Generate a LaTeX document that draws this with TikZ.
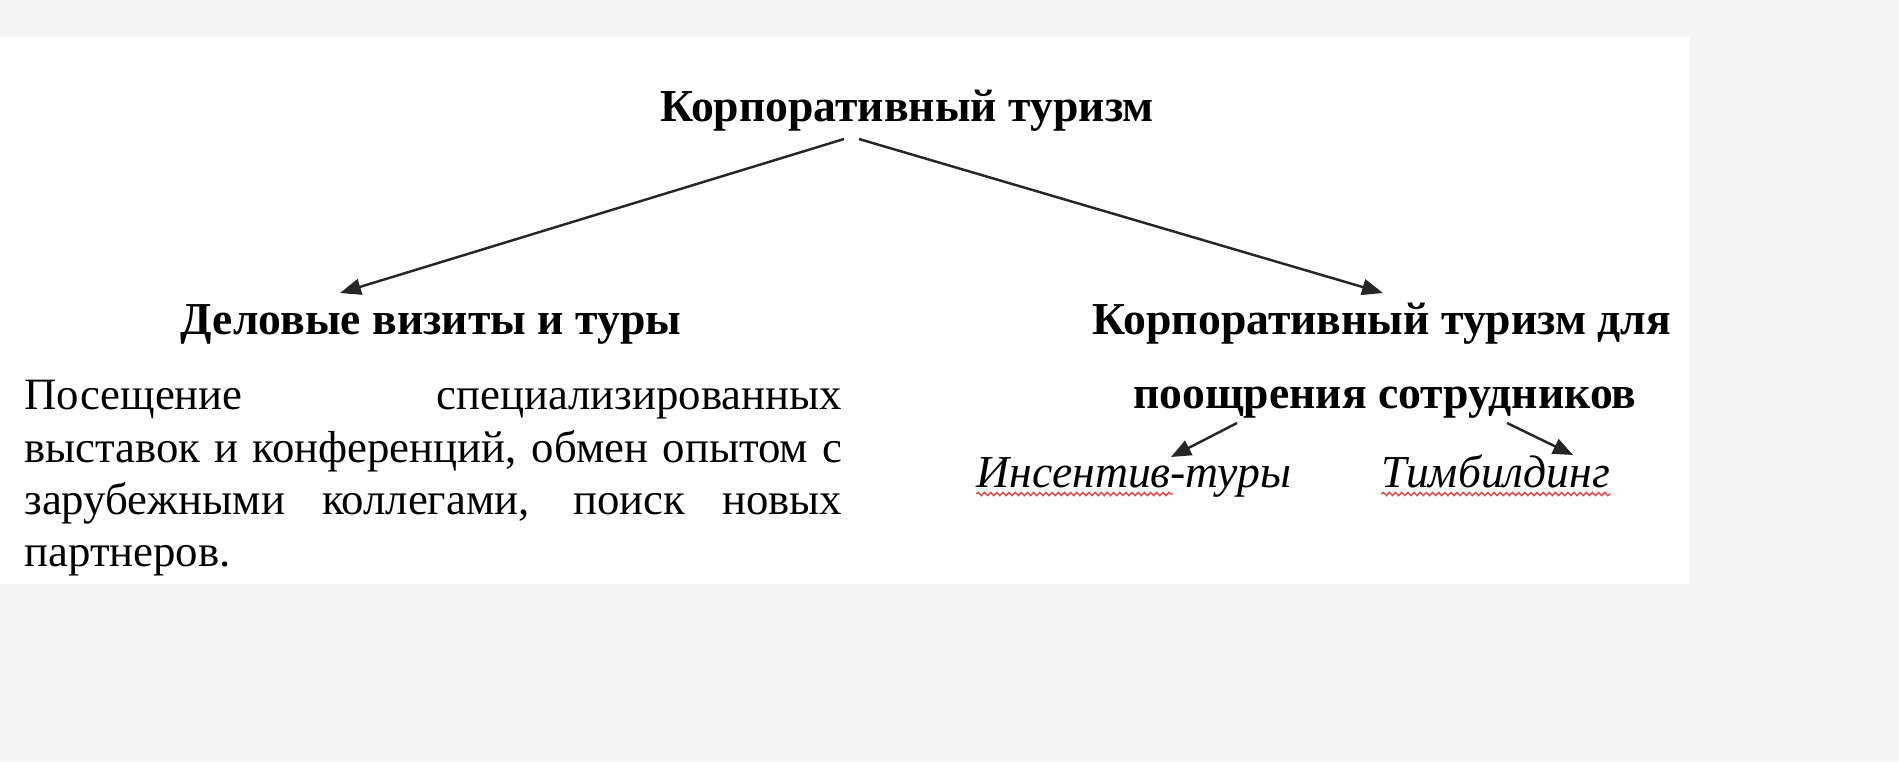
\documentclass[tikz,border=0pt]{standalone}
\usepackage{fontspec}
\setmainfont{Liberation Serif}
\usepackage{tikz}
\usetikzlibrary{positioning,arrows.meta,calc,decorations.pathmorphing}
\definecolor{pagegray}{RGB}{244,244,244}
\definecolor{spellred}{RGB}{226,70,70}
\tikzset{
    branch label/.style={font=\fontsize{26}{30}\selectfont\bfseries, inner sep=0pt, anchor=base},
    type label/.style={font=\fontsize{26}{30}\selectfont\itshape, inner sep=0pt, anchor=base},
    description/.style={font=\fontsize{25.5}{29.8}\selectfont, inner sep=0pt, text width=16.36cm, align=justify, anchor=north west},
    connection/.style={-{Triangle[length=0.42cm, width=0.32cm]}, line width=1.4pt, black!85},
    small connection/.style={-{Triangle[length=0.4cm, width=0.32cm]}, line width=1.4pt, black!85},
    spell mark/.style={spellred, line width=0.8pt, decorate, decoration={snake, amplitude=0.9pt, segment length=3.5pt}}
}
\begin{document}
\begin{tikzpicture}[x=0.02cm, y=-0.02cm]
    % page and white sheet
    \fill[pagegray] (0,0) rectangle (1899,761);
    \fill[white] (0,37) rectangle (1690,584);
    \useasboundingbox (0,0) rectangle (1899,761);

    % labels
    \node[branch label] (root) at (907,121) {Корпоративный туризм};
    \node[branch label] (business) at (431,334) {Деловые визиты и туры};
    \node[branch label] (incentive) at (1382,334) {Корпоративный туризм для};
    \node[branch label] (incentive2) at (1385,408) {поощрения сотрудников};
    \node[description] (visits) at (24,380) {\hyphenpenalty=10000 Посещение специализированных\linebreak
        выставок и конференций, обмен опытом с\linebreak
        зарубежными коллегами, поиск новых\linebreak
        партнеров.};
    \node[type label] (tours) at (1134,487) {Инсентив-туры};
    \node[type label] (teambuilding) at (1496,487) {Тимбилдинг};

    % arrows from the root
    \draw[connection] ($(root.base)+(-63,18)$) -- ($(business.base)+(-91,-41)$);
    \draw[connection] ($(root.base)+(-48,18)$) -- ($(incentive.base)+(1,-41)$);

    % arrows to the two kinds of incentive trips
    \draw[small connection] ($(incentive2.base)+(-148,15)$) -- ($(tours.base)+(37,-30)$);
    \draw[small connection] ($(incentive2.base)+(122,15)$) -- ($(teambuilding.base)+(77,-32)$);

    % spell check marks
    \draw[spell mark] ($(tours.base west)+(0,7)$) -- ($(tours.base west)+(197,7)$);
    \draw[spell mark] ($(teambuilding.base west)+(0,7)$) -- ($(teambuilding.base east)+(0,7)$);
\end{tikzpicture}
\end{document}
